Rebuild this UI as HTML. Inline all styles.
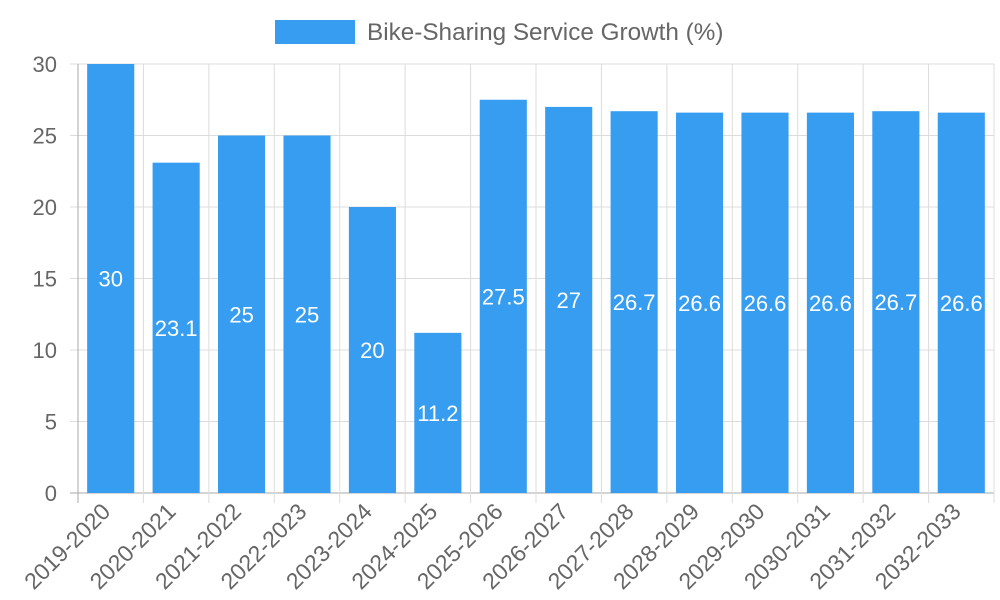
<!DOCTYPE html>
<html><head><meta charset="utf-8"><style>
html,body{margin:0;padding:0;background:#fff;}
svg{display:block;font-family:"Liberation Sans",Arial,sans-serif;}
</style></head><body>
<svg id="chart" width="1000" height="600"></svg>
<script>
const categories=["2019-2020","2020-2021","2021-2022","2022-2023","2023-2024","2024-2025","2025-2026","2026-2027","2027-2028","2028-2029","2029-2030","2030-2031","2031-2032","2032-2033"];
const values=[30,23.1,25,25,20,11.2,27.5,27,26.7,26.6,26.6,26.6,26.7,26.6];
const yTicks=[0,5,10,15,20,25,30];
const seriesName="Bike-Sharing Service Growth (%)";

const NS="http://www.w3.org/2000/svg";
const svg=document.getElementById('chart');
const L=78,R=994,T=64,B=493,yMax=30;
const bw=(R-L)/categories.length;
const y=v=>B-(v/yMax)*(B-T);
const x=i=>L+bw*i;
function mk(tag,attrs,parent){const e=document.createElementNS(NS,tag);for(const k in attrs)e.setAttribute(k,attrs[k]);(parent||svg).appendChild(e);return e;}

const lg=mk('g',{});


const lb=mk('rect',{x:275,y:20,width:80,height:24,fill:'#379df1'},lg);


const lt=mk('text',{x:367,y:40,'font-size':24.3,fill:'#666'},lg);
lt.textContent=seriesName;



for(const t of yTicks){
  const g=mk('line',{x1:L-8,x2:R,y1:y(t),y2:y(t),stroke:t===0?'#aaa':'#dcdcdc','stroke-width':1});
  
  
  const tx=mk('text',{x:57,y:y(t)+8,'font-size':22,fill:'#666','text-anchor':'end'});
  tx.textContent=t;
  
  
}
for(let i=0;i<=categories.length;i++){
  const g=mk('line',{x1:x(i),x2:x(i),y1:T,y2:B+10,stroke:i===0?'#aaa':'#dcdcdc','stroke-width':1});
  
  
}
categories.forEach((c,i)=>{
  const v=values[i];
  const bx=x(i)+bw*0.14, w=bw*0.72;
  const r=mk('rect',{x:bx,y:y(v),width:w,height:B-y(v),fill:'#379df1'});
  
  
  const t=mk('text',{x:x(i)+bw/2,y:(y(v)+B)/2+8,'font-size':22,fill:'#fff','text-anchor':'middle'});
  t.textContent=v;
  
  
  const cx=x(i)+bw/2+1, cy=B+20;
  const xl=mk('text',{x:cx,y:cy,'font-size':23,fill:'#666','text-anchor':'end',transform:`rotate(-45 ${cx} ${cy})`});
  xl.textContent=c;
  
  
});
</script>
</body></html>
